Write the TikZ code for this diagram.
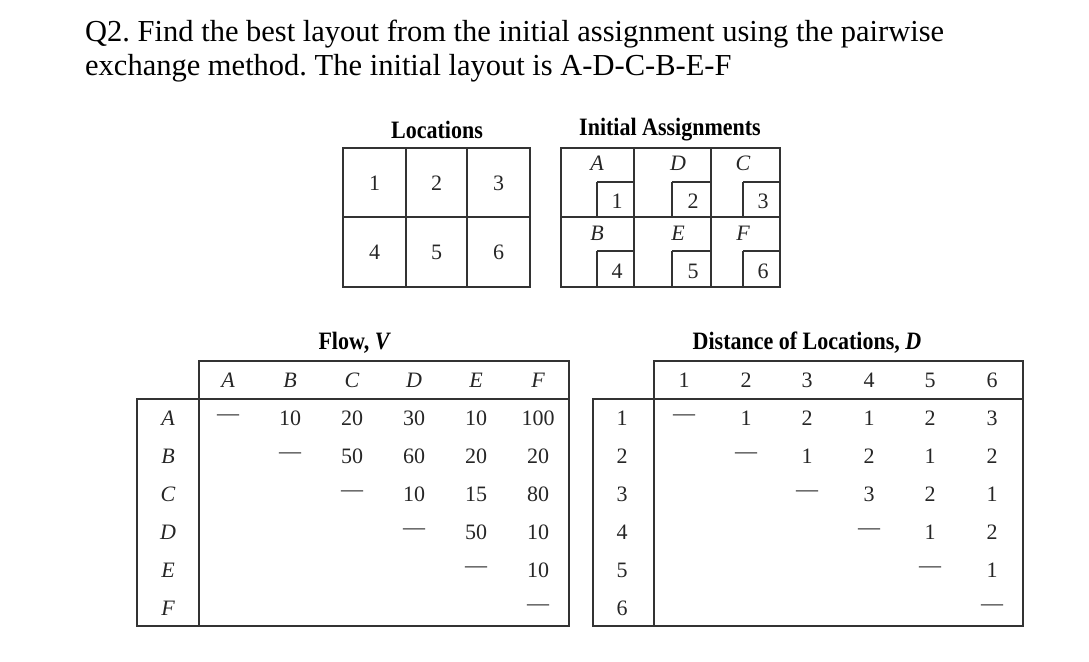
\documentclass[tikz,border=0pt]{standalone}
\usepackage{fontspec}
\setmainfont{Liberation Serif}
\usepackage{graphicx}
\frenchspacing
\begin{document}
\begin{tikzpicture}[x=1pt,y=-1pt,
  ln/.style={line width=1.3pt,draw=black!80},
  t/.style={inner sep=0pt,font=\fontsize{22}{22}\selectfont,text=black!85},
  hd/.style={inner sep=0pt,font=\fontsize{25}{25}\selectfont\bfseries},
  q/.style={inner sep=0pt,anchor=base west,font=\fontsize{30.5}{31}\selectfont}]
\useasboundingbox (0,0) rectangle (1089,661);
\node[q] (q1) at (85,42) {Q2. Find the best layout from the initial assignment using the pairwise};
\node[q] (q2) at (85,75) {exchange method. The initial layout is A-D-C-B-E-F};
% Locations
\node[hd] (lt) at (437,130) {\scalebox{0.88}[1]{Locations}};
\draw[ln] (343,148) rectangle (530,287);
\draw[ln] (406,148)--(406,287) (467,148)--(467,287) (343,217)--(530,217);
\foreach \x/\l in {374.5/1,436.5/2,498.5/3}{\node[t] (l\l) at (\x,183) {\l};}
\foreach \x/\l in {374.5/4,436.5/5,498.5/6}{\node[t] (l\l) at (\x,252) {\l};}
% Initial assignments
\node[hd] (it) at (670,130) {\scalebox{0.88}[1]{Initial Assignments}};
\draw[ln] (561,148) rectangle (780,287);
\draw[ln] (634,148)--(634,287) (711,148)--(711,287) (561,217)--(780,217);
\foreach \yy/\r in {148/0,217/1}{
  \draw[ln] (597,\yy+34)--(634,\yy+34) (597,\yy+34)--(597,\yy+69);
  \draw[ln] (672,\yy+34)--(711,\yy+34) (672,\yy+34)--(672,\yy+69);
  \draw[ln] (743,\yy+34)--(780,\yy+34) (743,\yy+34)--(743,\yy+69);
}
\node[t] (aA) at (597,163) {\itshape A};
\node[t] (aD) at (678,163) {\itshape D};
\node[t] (aC) at (743,163) {\itshape C};
\node[t] (aB) at (597,233) {\itshape B};
\node[t] (aE) at (678,233) {\itshape E};
\node[t] (aF) at (743,233) {\itshape F};
\node[t] (n1) at (617,201) {1};
\node[t] (n2) at (693,201) {2};
\node[t] (n3) at (763,201) {3};
\node[t] (n4) at (617,271) {4};
\node[t] (n5) at (693,271) {5};
\node[t] (n6) at (763,271) {6};
% Flow table
\node[hd] (ft) at (354,343) {\scalebox{0.88}[1]{Flow, \itshape V}};
\draw[ln] (199,361) rectangle (569,626);
\draw[ln] (137,399) rectangle (569,626);
\def\cx{{228,290,352,414,476,538}}
\def\ry{{418,456,494,532,570,608}}
\foreach \l [count=\i from 0] in {A,B,C,D,E,F}{
  \pgfmathsetmacro\xx{\cx[\i]}\pgfmathsetmacro\yy{\ry[\i]}
  \node[t] (fh\l) at (\xx,380) {\itshape \l};
  \node[t] (fr\l) at (168,\yy) {\itshape \l};
}
\foreach \i/\j/\v in {0/0/---,0/1/10,0/2/20,0/3/30,0/4/10,0/5/100,
  1/1/---,1/2/50,1/3/60,1/4/20,1/5/20,
  2/2/---,2/3/10,2/4/15,2/5/80,
  3/3/---,3/4/50,3/5/10,
  4/4/---,4/5/10,
  5/5/---}{
  \pgfmathsetmacro\xx{\cx[\j]}\pgfmathsetmacro\yy{\ry[\i]}
  \node[t] (f\i\j) at (\xx,\yy) {\v};
}
% Distance table
\node[hd] (dt) at (807,343) {\scalebox{0.88}[1]{Distance of Locations, \itshape D}};
\draw[ln] (654,361) rectangle (1023,626);
\draw[ln] (593,399) rectangle (1023,626);
\def\dx{{684,746,807,869,930,992}}
\foreach \l [count=\i from 0] in {1,...,6}{
  \pgfmathsetmacro\xx{\dx[\i]}\pgfmathsetmacro\yy{\ry[\i]}
  \node[t] (dh\l) at (\xx,380) {\l};
  \node[t] (dr\l) at (622,\yy) {\l};
}
\foreach \i/\j/\v in {0/0/---,0/1/1,0/2/2,0/3/1,0/4/2,0/5/3,
  1/1/---,1/2/1,1/3/2,1/4/1,1/5/2,
  2/2/---,2/3/3,2/4/2,2/5/1,
  3/3/---,3/4/1,3/5/2,
  4/4/---,4/5/1,
  5/5/---}{
  \pgfmathsetmacro\xx{\dx[\j]}\pgfmathsetmacro\yy{\ry[\i]}
  \node[t] (d\i\j) at (\xx,\yy) {\v};
}
\end{tikzpicture}
\end{document}
